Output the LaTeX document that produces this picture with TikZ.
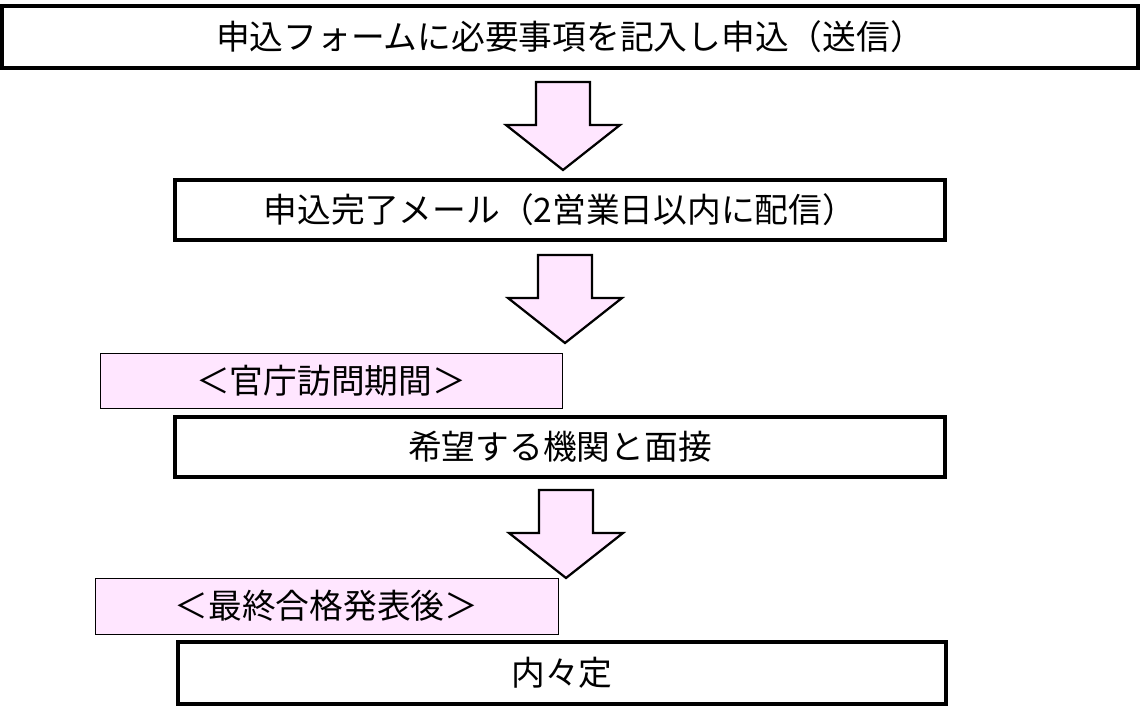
\documentclass[tikz,border=0pt]{standalone}
\usepackage{fontspec}
\usepackage{xcolor}
\newfontfamily\jpfont{Noto Sans CJK JP}
\definecolor{lightpink}{HTML}{FFE6FF}

\tikzset{
  stepbox/.style={draw, line width=2.2pt, fill=white, inner sep=0pt,
    font=\jpfont\fontsize{24pt}{28pt}\selectfont},
  periodtag/.style={draw, line width=0.6pt, fill=lightpink, inner sep=0pt,
    font=\jpfont\fontsize{24pt}{28pt}\selectfont},
  blockarrow/.style={draw, line width=1.6pt, fill=lightpink, line join=miter}
}

\begin{document}
\begin{tikzpicture}[x=0.025cm, y=-0.025cm]
  \useasboundingbox (0,0) rectangle (1140,714);

  % Steps
  \node[stepbox, minimum width=1136*0.025cm, minimum height=62*0.025cm] (apply) at (570,37)
    {申込フォームに必要事項を記入し申込（送信）};
  \node[stepbox, minimum width=770*0.025cm, minimum height=60*0.025cm] (mail) at (560,210)
    {申込完了メール（2営業日以内に配信）};
  \node[stepbox, minimum width=770*0.025cm, minimum height=60*0.025cm] (interview) at (560,447)
    {希望する機関と面接};
  \node[stepbox, minimum width=768*0.025cm, minimum height=62*0.025cm] (offer) at (562,673)
    {内々定};

  % Period tags
  \node[periodtag, minimum width=462*0.025cm, minimum height=55*0.025cm] (visit) at (331,380.5)
    {＜官庁訪問期間＞};
  \node[periodtag, minimum width=463*0.025cm, minimum height=56*0.025cm] (result) at (326.5,606)
    {＜最終合格発表後＞};

  % Block arrows between steps: centre x / top y
  \foreach \cx/\ty in {563/82, 565/255, 566/490}{
    \draw[blockarrow] (\cx-27,\ty) -- (\cx+27,\ty) -- (\cx+27,\ty+43) -- (\cx+57,\ty+43)
      -- (\cx,\ty+88) -- (\cx-57,\ty+43) -- (\cx-27,\ty+43) -- cycle;
  }
\end{tikzpicture}
\end{document}
